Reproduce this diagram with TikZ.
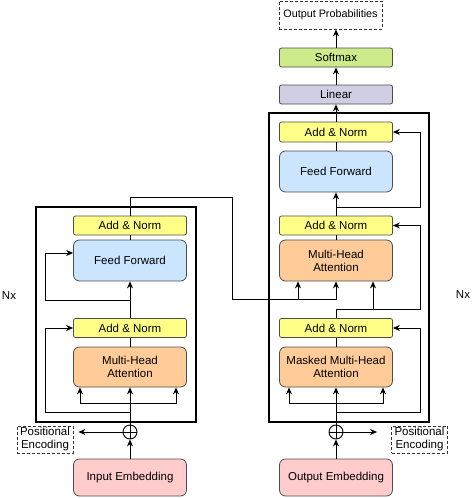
\documentclass[tikz,border=0pt]{standalone}
\usepackage{fontspec}
\setmainfont{Liberation Sans}
\usetikzlibrary{arrows.meta}

\definecolor{edgegray}{HTML}{4D4D4D}
\definecolor{normyellow}{HTML}{FFFF88}
\definecolor{ffblue}{HTML}{CCE5FF}
\definecolor{attnorange}{HTML}{FFCC99}
\definecolor{embpink}{HTML}{FFCCCC}
\definecolor{softgreen}{HTML}{CDEB8B}
\definecolor{linpurple}{HTML}{D0CEE2}

\begin{document}
\begin{tikzpicture}[x=1pt,y=-1pt,font=\fontsize{11.5}{13}\selectfont,
	blk/.style={draw=edgegray, line width=0.8pt, minimum width=113pt, inner sep=0pt, align=center},
	addnorm/.style={blk, fill=normyellow, rounded corners=2pt, minimum height=19pt},
	ffwd/.style={blk, fill=ffblue, rounded corners=6pt, minimum height=41pt},
	attn/.style={blk, fill=attnorange, rounded corners=6pt, minimum height=40pt},
	embed/.style={blk, fill=embpink, rounded corners=6pt, minimum height=37pt},
	dashbox/.style={draw=black!80, dash pattern=on 3pt off 2pt, line width=0.8pt, inner sep=0pt, minimum width=56pt, minimum height=27pt, align=center},
	frame/.style={draw, line width=2pt},
	conn/.style={line width=0.9pt},
	arr/.style={conn, -{Stealth[length=7pt,width=6pt]}},
	oplus/.style={circle, draw, line width=0.9pt, minimum size=14pt, inner sep=0pt,
		path picture={\draw[line width=0.9pt] (path picture bounding box.north) -- (path picture bounding box.south)
			(path picture bounding box.west) -- (path picture bounding box.east);}}]
	\useasboundingbox (0,0) rectangle (474,498);

	% frames
	\draw[frame] (36,207) rectangle (196,422);
	\draw[frame] (269,113) rectangle (429,422);
	\node (encN) at (9,296) {Nx};
	\node (decN) at (463,295) {Nx};

	% encoder
	\node[embed] (inEmb) at (130,477.5) {Input Embedding};
	\node[oplus] (encAdd) at (130,432) {};
	\node[dashbox] (encPE) at (45,439.5) {Positional\\Encoding};
	\node[attn] (encMHA) at (130,367) {Multi-Head\\Attention};
	\node[addnorm] (encAN1) at (130,328) {Add \& Norm};
	\node[ffwd] (encFF) at (130,260.5) {Feed Forward};
	\node[addnorm] (encAN2) at (130,225.5) {Add \& Norm};

	\coordinate (encFork) at (130,403);
	\coordinate (encRes1) at (130,412);
	\coordinate (encRes2) at (130,300);
	\draw[arr] (inEmb) -- (encAdd);
	\draw[arr, shorten >=5pt] (encAdd.west) -- (encAdd.west -| encPE.east);
	\draw[arr] (encAdd) -- (encMHA);
	\draw[arr] (encFork) -| ([xshift=-50pt]encMHA.south);
	\draw[arr] (encFork) -| ([xshift=46pt]encMHA.south);
	\draw[arr] (encRes1) -| ([xshift=-28pt]encAN1.west) -- (encAN1.west);
	\draw[conn] (encMHA) -- (encAN1);
	\draw[arr] (encAN1) -- (encFF);
	\draw[arr] (encRes2) -| ([xshift=-28pt,yshift=7.5pt]encFF.west) -- ([yshift=7.5pt]encFF.west);
	\draw[conn] (encFF) -- (encAN2);

	% decoder
	\node[embed] (outEmb) at (336,477.5) {Output Embedding};
	\node[oplus] (decAdd) at (336,432) {};
	\node[dashbox] (decPE) at (419.5,439.5) {Positional\\Encoding};
	\node[attn] (decMMHA) at (336,367) {Masked Multi-Head\\Attention};
	\node[addnorm] (decAN1) at (336,328) {Add \& Norm};
	\node[attn, minimum height=41pt] (decMHA) at (336,260.5) {Multi-Head\\Attention};
	\node[addnorm] (decAN2) at (336,225.5) {Add \& Norm};
	\node[ffwd] (decFF) at (336,171.5) {Feed Forward};
	\node[addnorm, minimum height=20pt] (decAN3) at (336,132) {Add \& Norm};
	\node[addnorm, fill=linpurple] (linear) at (336,94.5) {Linear};
	\node[addnorm, fill=softgreen] (softmax) at (336,57.5) {Softmax};
	\node[dashbox, minimum width=103pt, minimum height=28pt, font=\fontsize{10.8}{12}\selectfont] (outProb) at (330.5,15) {Output Probabilities};

	\coordinate (decFork) at (336,403);
	\coordinate (decRes1) at (336,412);
	\coordinate (decRes2) at (336,309);
	\coordinate (decQ) at (373,309);
	\coordinate (decRes3) at (336,207);
	\draw[arr] (outEmb) -- (decAdd);
	\draw[arr, shorten >=14pt] (decAdd.east) -- (decAdd.east -| decPE.west);
	\draw[arr] (decAdd) -- (decMMHA);
	\draw[arr] (decFork) -| ([xshift=-47pt]decMMHA.south);
	\draw[arr] (decFork) -| ([xshift=47pt]decMMHA.south);
	\draw[arr] (decRes1) -| ([xshift=28pt]decAN1.east) -- (decAN1.east);
	\draw[conn] (decMMHA) -- (decAN1);
	\draw[conn] (decAN1) -- (decRes2);
	\draw[arr] (decRes2) -| ([xshift=28pt]decAN2.east) -- (decAN2.east);
	\draw[arr] (decQ) -- (decQ |- decMHA.south);
	\draw[conn] (decMHA) -- (decAN2);
	\draw[arr] (decAN2) -- (decFF);
	\draw[arr] (decRes3) -| ([xshift=28pt]decAN3.east) -- (decAN3.east);
	\draw[conn] (decFF) -- (decAN3);
	\draw[arr] (decAN3) -- (linear);
	\draw[arr] (linear) -- (softmax);
	\draw[arr] (softmax) -- (softmax |- outProb.south);

	% encoder output into decoder
	\coordinate (crossA) at (232,197);
	\coordinate (memK) at (298,299);
	\coordinate (memV) at (336,299);
	\draw[arr] (encAN2.north) |- (crossA) |- (memV) -- (memV |- decMHA.south);
	\draw[arr] (memK) -- (memK |- decMHA.south);
\end{tikzpicture}
\end{document}
